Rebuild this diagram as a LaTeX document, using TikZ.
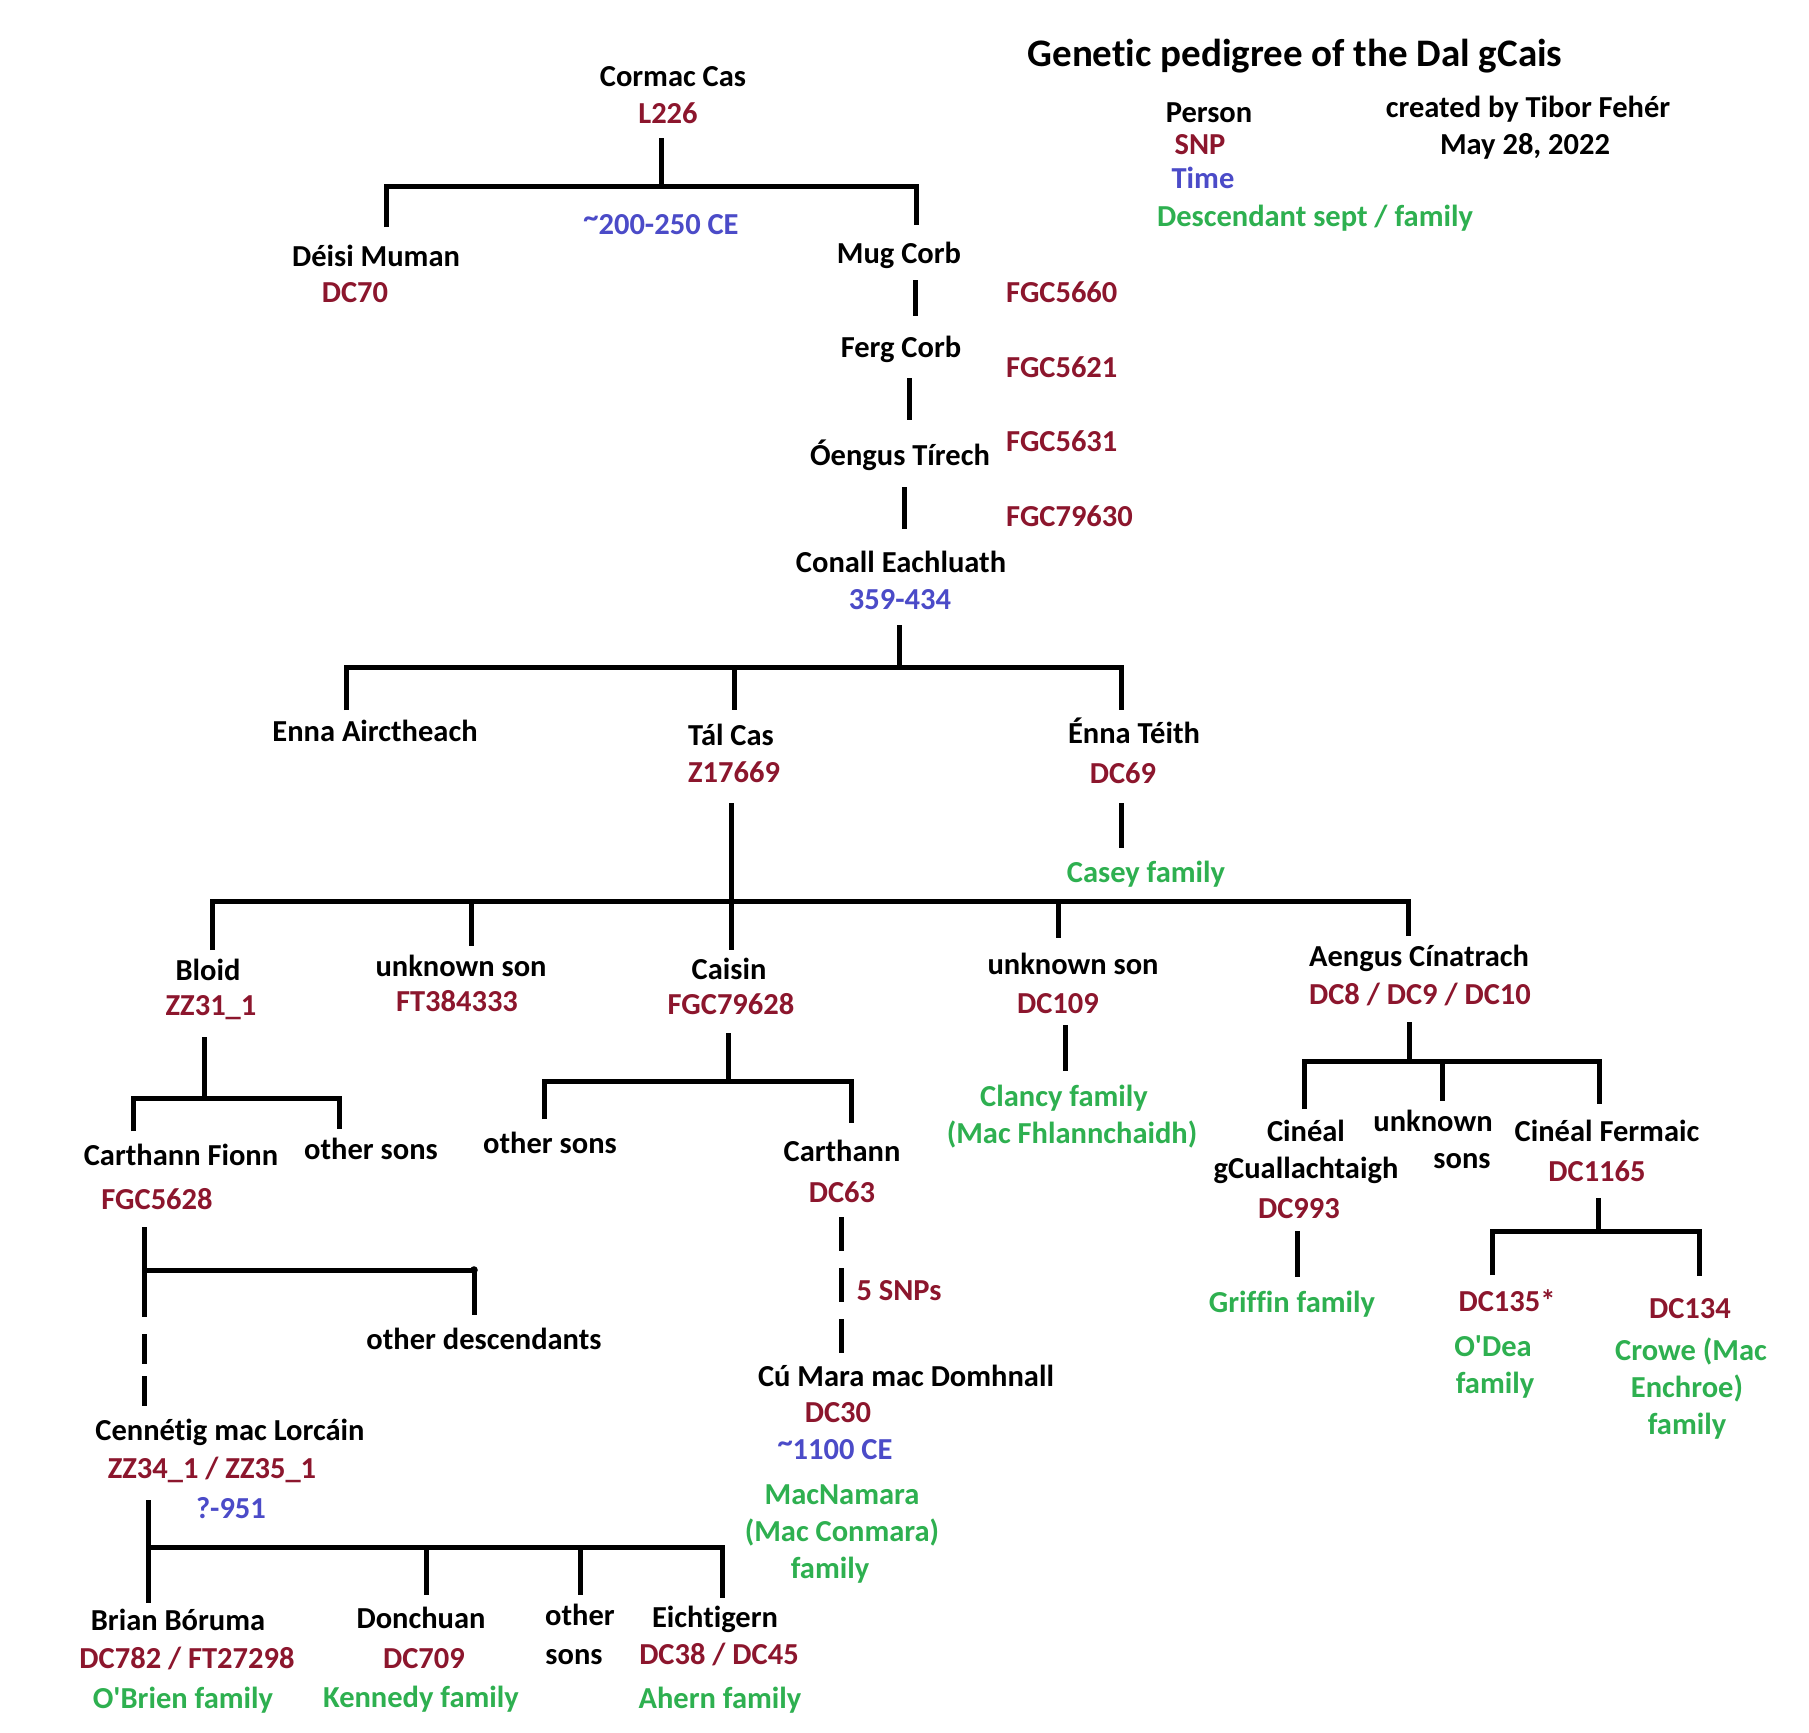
\documentclass[tikz,border=0pt]{standalone}
\usepackage{fontspec}
\setmainfont{Carlito}[Ligatures=NoCommon]
\definecolor{snpred}{RGB}{140,22,45}
\definecolor{timeblue}{RGB}{75,75,200}
\definecolor{famgreen}{RGB}{46,176,80}
\newcommand\mysz{\fontsize{30.5}{37}\selectfont}
\newcommand\titlesz{\fontsize{39}{46}\selectfont}
\newcommand\hitilde{\raisebox{0.22em}{\textasciitilde}}
\begin{document}
\begin{tikzpicture}[x=1pt,y=-1pt,
  txt/.style={anchor=base, inner sep=0pt, font=\mysz\bfseries, yshift=-10pt},
  per/.style={txt, text=black},
  snp/.style={txt, text=snpred},
  tim/.style={txt, text=timeblue},
  fam/.style={txt, text=famgreen},
  ln/.style={line width=5pt},
]
\fill[white] (0,0) rectangle (1809,1732);
\useasboundingbox (0,0) rectangle (1809,1732);

% ---------- legend ----------
\node[per, font=\titlesz\bfseries, yshift=-2.5pt] (title) at (1295,54) {Genetic pedigree of the Dal gCais};
\node[per] (lperson) at (1209,112) {Person};
\node[snp] (lsnp) at (1200,144) {SNP};
\node[tim] (ltime) at (1203,178) {Time};
\node[fam] (ldesc) at (1315,216) {Descendant sept / family};
\node[per] (created) at (1528,107) {created by Tibor Fehér};
\node[per] (date) at (1525,144) {May 28, 2022};

% ---------- top ----------
\node[per] (cormac) at (673,76) {Cormac Cas};
\node[snp] (l226) at (668,113) {L226};
\node[tim] (t200) at (661,224) {\hitilde200-250 CE};
\node[per] (deisi) at (376,256) {Déisi Muman};
\node[snp] (dc70) at (355,292) {DC70};
\node[per] (mug) at (899,253) {Mug Corb};
\node[snp, anchor=base west] (fgc5660) at (1006,292) {FGC5660};
\node[per] (ferg) at (901,347) {Ferg Corb};
\node[snp, anchor=base west] (fgc5621) at (1006,367) {FGC5621};
\node[per] (oengus) at (900,455) {Óengus Tírech};
\node[snp, anchor=base west] (fgc5631) at (1006,441) {FGC5631};
\node[snp, anchor=base west] (fgc79630) at (1006,516) {FGC79630};
\node[per] (conall) at (901,562) {Conall Eachluath};
\node[tim] (t359) at (900,599) {359-434};

% ---------- level 3 ----------
\node[per] (enna) at (375,731) {Enna Airctheach};
\node[per] (tal) at (731,735) {Tál Cas};
\node[snp] (z17669) at (734,772) {Z17669};
\node[per] (ennat) at (1134,733) {Énna Téith};
\node[snp] (dc69) at (1123,773) {DC69};
\node[fam] (casey) at (1146,872) {Casey family};

% ---------- level 4 ----------
\node[per] (bloid) at (208,970) {Bloid};
\node[snp] (zz31) at (211,1005) {ZZ31\_1};
\node[per] (unk1) at (461,966) {unknown son};
\node[snp] (ft384333) at (457,1001) {FT384333};
\node[per] (caisin) at (729,969) {Caisin};
\node[snp] (fgc79628) at (731,1004) {FGC79628};
\node[per] (unk2) at (1073,964) {unknown son};
\node[snp] (dc109) at (1058,1003) {DC109};
\node[per] (aengus) at (1419,956) {Aengus Cínatrach};
\node[snp] (dc8) at (1420,994) {DC8 / DC9 / DC10};

% ---------- level 5 ----------
\node[per] (carfionn) at (181,1155) {Carthann Fionn};
\node[per] (oth1) at (371,1149) {other sons};
\node[snp] (fgc5628) at (157,1199) {FGC5628};
\node[per] (oth2) at (550,1143) {other sons};
\node[per] (carthann) at (842,1151) {Carthann};
\node[snp] (dc63) at (842,1192) {DC63};
\node[snp] (snps5) at (899,1290) {5 SNPs};
\node[per] (cumara) at (906,1376) {Cú Mara mac Domhnall};
\node[snp] (dc30) at (838,1412) {DC30};
\node[tim] (t1100) at (835,1449) {\hitilde1100 CE};
\node[fam] (macnam1) at (842,1494) {MacNamara};
\node[fam] (macnam2) at (842,1531) {(Mac Conmara)};
\node[fam] (macnam3) at (830,1568) {family};
\node[fam] (clancy1) at (1064,1096) {Clancy family};
\node[fam] (clancy2) at (1072,1133) {(Mac Fhlannchaidh)};
\node[per] (cineal1) at (1306,1131) {Cinéal};
\node[per] (cineal2) at (1306,1168) {gCuallachtaigh};
\node[snp] (dc993) at (1299,1208) {DC993};
\node[per] (unks1) at (1433,1121) {unknown};
\node[per] (unks2) at (1462,1158) {sons};
\node[per] (fermaic) at (1607,1131) {Cinéal Fermaic};
\node[snp] (dc1165) at (1597,1171) {DC1165};
\node[fam] (griffin) at (1292,1302) {Griffin family};
\node[snp] (dc135) at (1507,1301) {DC135*};
\node[fam] (odea1) at (1493,1346) {O\textquotesingle Dea};
\node[fam] (odea2) at (1495,1383) {family};
\node[snp] (dc134) at (1690,1308) {DC134};
\node[fam] (crowe1) at (1691,1350) {Crowe (Mac};
\node[fam] (crowe2) at (1687,1387) {Enchroe)};
\node[fam] (crowe3) at (1687,1424) {family};

% ---------- lower left ----------
\node[per] (othdesc) at (484,1339) {other descendants};
\node[per] (cennetig) at (230,1430) {Cennétig mac Lorcáin};
\node[snp] (zz34) at (212,1468) {ZZ34\_1 / ZZ35\_1};
\node[tim] (t951) at (231,1508) {?-951};
\node[per] (brian) at (178,1620) {Brian Bóruma};
\node[snp] (dc782) at (187,1658) {DC782 / FT27298};
\node[fam] (obrien) at (183,1698) {O\textquotesingle Brien family};
\node[per] (donch) at (421,1618) {Donchuan};
\node[snp] (dc709) at (424,1658) {DC709};
\node[fam] (kennedy) at (421,1697) {Kennedy family};
\node[per] (oth3a) at (580,1615) {other};
\node[per] (oth3b) at (574,1654) {sons};
\node[per] (eicht) at (715,1617) {Eichtigern};
\node[snp] (dc38) at (719,1654) {DC38 / DC45};
\node[fam] (ahern) at (720,1698) {Ahern family};

% ---------- connector points ----------
\coordinate (cormac-s) at (661,138);
\coordinate (cormac-j) at (661,186);
\coordinate (deisi-n) at (386,227);
\coordinate (mug-n) at (916,225);
\coordinate (mug-s) at (915,280);
\coordinate (ferg-n) at (915,316);
\coordinate (ferg-s) at (909,378);
\coordinate (oengus-n) at (909,420);
\coordinate (oengus-s) at (904,487);
\coordinate (conall-n) at (904,529);
\coordinate (conall-s) at (899,625);
\coordinate (conall-j) at (899,667);
\coordinate (enna-n) at (346,710);
\coordinate (tal-n) at (734,710);
\coordinate (ennat-n) at (1121,710);
\coordinate (dc69-s) at (1121,803);
\coordinate (casey-n) at (1121,848);
\coordinate (tal-s) at (731,803);
\coordinate (tal-j) at (731,901);
\coordinate (bloid-n) at (212,950);
\coordinate (unk1-n) at (471,946);
\coordinate (caisin-n) at (731,950);
\coordinate (unk2-n) at (1058,938);
\coordinate (aengus-n) at (1408,936);
\coordinate (bloid-s) at (204,1037);
\coordinate (bloid-j) at (204,1098);
\coordinate (carfionn-n) at (133,1131);
\coordinate (oth1-n) at (339,1129);
\coordinate (caisin-s) at (728,1033);
\coordinate (caisin-j) at (728,1081);
\coordinate (oth2-n) at (544,1119);
\coordinate (carthann-n) at (851,1123);
\coordinate (dc109-s) at (1065,1025);
\coordinate (clancy-n) at (1065,1071);
\coordinate (aengus-s) at (1409,1022);
\coordinate (aengus-j) at (1409,1061);
\coordinate (cineal-n) at (1304,1109);
\coordinate (unks-n) at (1442,1101);
\coordinate (fermaic-n) at (1599,1104);
\coordinate (dc993-s) at (1297,1231);
\coordinate (griffin-n) at (1297,1277);
\coordinate (dc1165-s) at (1598,1198);
\coordinate (dc1165-j) at (1598,1231);
\coordinate (dc135-n) at (1492,1275);
\coordinate (dc134-n) at (1699,1276);
\coordinate (dc63-s) at (841,1217);
\coordinate (cumara-n) at (841,1353);
\coordinate (fgc5628-s) at (144,1227);
\coordinate (fgc5628-j) at (144,1270);
\coordinate (fgc5628-e) at (144,1317);
\coordinate (othdesc-n) at (474,1315);
\coordinate (cennetig-a) at (144,1334);
\coordinate (cennetig-n) at (144,1406);
\coordinate (cennetig-s) at (148,1500);
\coordinate (cennetig-j) at (148,1547);
\coordinate (brian-n) at (148,1603);
\coordinate (donch-n) at (426,1595);
\coordinate (oth3-n) at (580,1595);
\coordinate (eicht-n) at (722,1598);

% ---------- connectors ----------
\draw[ln] (cormac-s) -- (cormac-j);
\draw[ln] (deisi-n) |- (cormac-j) -| (mug-n);
\draw[ln] (mug-s) -- (ferg-n);
\draw[ln] (ferg-s) -- (oengus-n);
\draw[ln] (oengus-s) -- (conall-n);
\draw[ln] (conall-s) -- (conall-j);
\draw[ln] (enna-n) |- (conall-j) -| (ennat-n);
\draw[ln] (tal-n |- conall-j) -- (tal-n);
\draw[ln] (dc69-s) -- (casey-n);
\draw[ln] (tal-s) -- (tal-j);
\draw[ln] (bloid-n) |- (tal-j) -| (aengus-n);
\draw[ln] (unk1-n |- tal-j) -- (unk1-n);
\draw[ln] (caisin-n |- tal-j) -- (caisin-n);
\draw[ln] (unk2-n |- tal-j) -- (unk2-n);
\draw[ln] (bloid-s) -- (bloid-j);
\draw[ln] (carfionn-n) |- (bloid-j) -| (oth1-n);
\draw[ln] (caisin-s) -- (caisin-j);
\draw[ln] (oth2-n) |- (caisin-j) -| (carthann-n);
\draw[ln] (dc109-s) -- (clancy-n);
\draw[ln] (aengus-s) -- (aengus-j);
\draw[ln] (cineal-n) |- (aengus-j) -| (fermaic-n);
\draw[ln] (unks-n |- aengus-j) -- (unks-n);
\draw[ln] (dc993-s) -- (griffin-n);
\draw[ln] (dc1165-s) -- (dc1165-j);
\draw[ln] (dc135-n) |- (dc1165-j) -| (dc134-n);
\draw[ln, dash pattern=on 34pt off 17pt] (dc63-s) -- (cumara-n);
\draw[ln] (fgc5628-s) -- (fgc5628-e);
\draw[ln] (fgc5628-j) -| (othdesc-n);
\fill (othdesc-n |- fgc5628-j) circle (3.8pt);
\draw[ln, dash pattern=on 30pt off 12pt] (cennetig-a) -- (cennetig-n);
\draw[ln] (cennetig-s) -- (brian-n);
\draw[ln] (cennetig-j) -| (eicht-n);
\draw[ln] (donch-n |- cennetig-j) -- (donch-n);
\draw[ln] (oth3-n |- cennetig-j) -- (oth3-n);
\end{tikzpicture}
\end{document}
